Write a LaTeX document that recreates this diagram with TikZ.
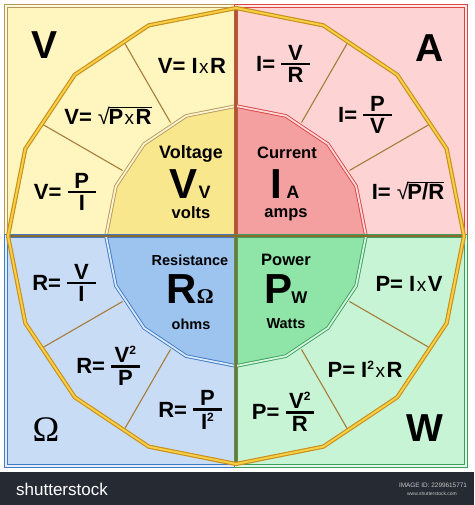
\documentclass[tikz,border=0pt]{standalone}
\usepackage{fontspec}
\setmainfont{Liberation Sans}
\newfontfamily\serifom{Liberation Serif}

\definecolor{voltbg}{HTML}{FFF5BF}
\definecolor{voltcore}{HTML}{F9E78E}
\definecolor{voltline}{HTML}{B8985A}
\definecolor{ampbg}{HTML}{FDD3D3}
\definecolor{ampcore}{HTML}{F4A0A0}
\definecolor{ampline}{HTML}{DD4444}
\definecolor{ohmbg}{HTML}{C9DCF5}
\definecolor{ohmcore}{HTML}{9DC3EF}
\definecolor{ohmline}{HTML}{3F7BC4}
\definecolor{wattbg}{HTML}{C7F4D4}
\definecolor{wattcore}{HTML}{8FE5A7}
\definecolor{wattline}{HTML}{3E9E5E}
\definecolor{ringgold}{HTML}{C98E1C}
\definecolor{ringlight}{HTML}{F6CF45}
\definecolor{spokebrown}{HTML}{A67C3A}
\definecolor{crossbrown}{HTML}{8C6A2E}
\definecolor{bannerbg}{HTML}{262B33}

% small x, squared, root and fraction
\newcommand{\tx}{\kern1.5pt{\mdseries\fontsize{19}{19}\selectfont x}\kern1.5pt}
\newcommand{\sqd}{\raisebox{8pt}{\fontsize{12}{12}\selectfont 2}}
\newcommand{\rt}[1]{{\mdseries √}\kern-1.5pt\vbox{\hrule height 1pt\kern1.5pt\hbox{#1}}}
\newcommand{\frc}[2]{\raisebox{\dimexpr-0.5\height+0.33em\relax}{\vbox{\offinterlineskip
  \hbox to 1.3em{\hss#1\hss}\kern2.5pt\hrule height 2.5pt width 1.3em\kern2.5pt
  \hbox to 1.3em{\hss#2\hss}}}}

\begin{document}
\begin{tikzpicture}[x=1pt, y=1pt,
  quadbox/.style={line width=0.7pt, double distance=2.2pt},
  corebox/.style={line width=0.9pt, double distance=1.8pt},
  ring/.style={draw=ringgold, line width=1.1pt, double=ringlight, double distance=2pt, line join=round},
  spoke/.style={draw=spokebrown, line width=1.1pt},
  cross/.style={draw=crossbrown, line width=1.8pt},
  eqn/.style={font=\fontsize{22}{24}\selectfont\bfseries, inner sep=0pt},
  corner/.style={font=\fontsize{39}{40}\selectfont\bfseries, inner sep=0pt},
  word/.style={font=\fontsize{16.5}{18}\selectfont\bfseries, inner sep=0pt},
  smallword/.style={font=\fontsize{14.5}{16}\selectfont\bfseries, inner sep=0pt},
  unit/.style={inner sep=0pt, anchor=base, font=\bfseries}]

\useasboundingbox (-236,-269) rectangle (238,236);
\fill[white] (-236,-236) rectangle (238,236);
\fill[bannerbg] (-236,-236) rectangle (238,-269);

% quadrants
\foreach \q/\a in {volt/90, amp/0, ohm/180, watt/270}{
  \filldraw[quadbox, fill=\q bg, draw=\q line, double=\q bg!50!white] (0,0) rectangle (\a+45:325.27);
}

% core
\foreach \q/\a in {volt/90, amp/0, ohm/180, watt/270}{
  \filldraw[corebox, fill=\q core, draw=\q line, double=\q core!40!white]
    (0,0) -- (\a:130) -- (\a+22.5:130) -- (\a+45:130) -- (\a+67.5:130) -- (\a+90:130) -- cycle;
}

\foreach \a in {30,60,120,150,210,240,300,330}
  \draw[spoke] (\a:131) -- (\a:224);

\draw[cross] (0,-230) -- (0,230);
\draw[cross] (-230,0) -- (230,0);

\draw[ring] (0:228) \foreach \k in {1,...,15}{ -- (\k*22.5:228)} -- cycle;

% corners
\node[corner] (bigv) at (-191,191) {V};
\node[corner] (biga) at (194,188) {A};
\node[corner, font=\fontsize{36}{38}\selectfont\serifom] (bigohm) at (-190,-194) {Ω};
\node[corner] (bigw) at (189,-192) {W};

% formulas
\node[eqn] (veqa) at (-44,170) {V= I\tx R};
\node[eqn] (veqb) at (-128,120) {V= \rt{P\tx R}};
\node[eqn] (veqc) at (-171,44) {V= \frc{P}{I}};
\node[eqn] (aeqa) at (47,172) {I= \frc{V}{R}};
\node[eqn] (aeqb) at (129,121) {I= \frc{P}{V}};
\node[eqn] (aeqc) at (172,45) {I= \rt{P/R}};
\node[eqn] (reqa) at (-172,-47) {R= \frc{V}{I}};
\node[eqn] (reqb) at (-128,-130) {R= \frc{V\sqd}{P}};
\node[eqn] (reqc) at (-46,-174) {R= \frc{P}{I\sqd}};
\node[eqn] (peqa) at (173,-48) {P= I\tx V};
\node[eqn] (peqb) at (129,-133) {P= I\sqd\tx R};
\node[eqn] (peqc) at (47,-176) {P= \frc{V\sqd}{R}};

% core labels
\node[word, font=\fontsize{18}{20}\selectfont\bfseries] (voltword) at (-45,82) {Voltage};
\node[unit] (voltsym) at (-46,37) {\fontsize{42}{42}\selectfont V\kern1pt\fontsize{18}{18}\selectfont V};
\node[word] (voltunit) at (-45,23) {volts};

\node[word] (ampword) at (51,83) {Current};
\node[unit] (ampsym) at (49,37) {\fontsize{42}{42}\selectfont I\kern4pt\fontsize{18}{18}\selectfont A};
\node[word] (ampunit) at (50,21) {amps};

\node[smallword] (ohmword) at (-46,-24) {Resistance};
\node[unit] (ohmsym) at (-46,-68) {\fontsize{42}{42}\selectfont R{\serifom\fontsize{21}{21}\selectfont Ω}};
\node[smallword] (ohmunit) at (-45,-88) {ohms};

\node[word] (wattword) at (50,-24) {Power};
\node[unit] (wattsym) at (50,-68) {\fontsize{42}{42}\selectfont P\kern-1pt\fontsize{17}{17}\selectfont W};
\node[smallword] (wattunit) at (50,-88) {Watts};

% banner
\node[font=\fontsize{17}{17}\selectfont, text=white, inner sep=0pt] (logo) at (-174,-253) {shutterstock};
\node[font=\fontsize{6.4}{7}\selectfont, text=gray!45, inner sep=0pt] (imgid) at (197,-249) {IMAGE ID: 2299615771};
\node[font=\fontsize{5}{6}\selectfont, text=gray!45, inner sep=0pt] (weburl) at (196,-258) {www.shutterstock.com};

\end{tikzpicture}
\end{document}
